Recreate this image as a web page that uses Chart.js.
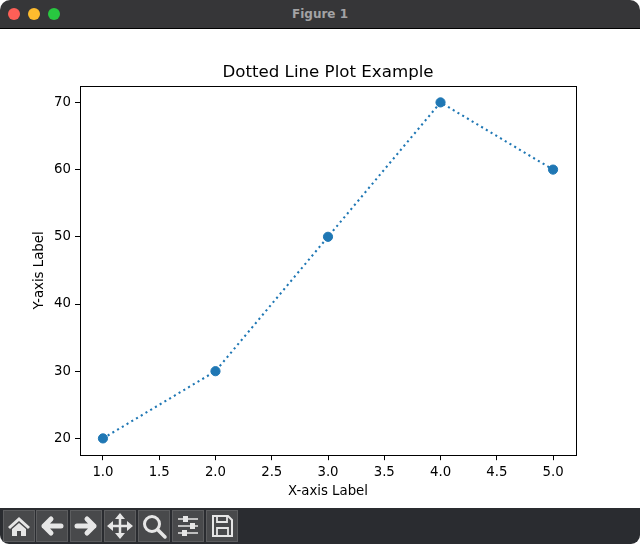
<!DOCTYPE html>
<html>
<head>
<meta charset="utf-8">
<title>Figure 1</title>
<script src="https://cdn.jsdelivr.net/npm/chart.js@4/dist/chart.umd.min.js"></script>
<style>
  html, body { margin:0; padding:0; background:#fff; }
  #win { position:relative; width:640px; height:544px; overflow:hidden; background:#fff; border-radius:10px 10px 9px 9px; font-family:"DejaVu Sans",sans-serif; }
  #titlebar { position:absolute; left:0; top:0; width:640px; height:29px; background:#363638; border-bottom:1px solid #000; box-sizing:border-box; }
  #titlebar span { position:absolute; left:0; right:0; top:7px; text-align:center; font-size:12px; font-weight:bold; color:#a3a3a5; }
  .dot { position:absolute; top:8px; width:12px; height:12px; border-radius:50%; }
  #plot { position:absolute; left:0; top:28px; width:640px; height:480px; }
  #toolbar { position:absolute; left:0; top:508px; width:640px; height:36px; background:#2a2c30; }
  .btn { position:absolute; top:2px; width:32px; height:32px; box-sizing:border-box; background:#48494b; border:1px solid #5c5d5f; }
  .btn svg { position:absolute; left:0; top:0; width:30px; height:30px; }
</style>
</head>
<body>
<div id="win">
  <div id="titlebar">
    <div class="dot" style="left:8px;background:#fe5f57"></div>
    <div class="dot" style="left:28px;background:#febc2e"></div>
    <div class="dot" style="left:48px;background:#28c840"></div>
    <span>Figure 1</span>
  </div>
  <div id="plot"><canvas id="chart" width="640" height="480"></canvas></div>
  <div id="toolbar">
    <div class="btn" style="left:3px"><svg viewBox="0 0 30 30"><path d="M4 16 L15 6 L26 16 L24 18 L15 10 L6 18Z M8 18 L15 12 L22 18 V25 H17 V20 H13 V25 H8Z" fill="#e6e6e6"/></svg></div>
    <div class="btn" style="left:36px"><svg viewBox="0 0 30 30"><path d="M7 15 H24 M14 8 L7 15 L14 22" fill="none" stroke="#e6e6e6" stroke-width="5" stroke-linecap="round" stroke-linejoin="round"/></svg></div>
    <div class="btn" style="left:70px"><svg viewBox="0 0 30 30"><path d="M6 15 H23 M16 8 L23 15 L16 22" fill="none" stroke="#e6e6e6" stroke-width="5" stroke-linecap="round" stroke-linejoin="round"/></svg></div>
    <div class="btn" style="left:104px"><svg viewBox="0 0 30 30"><path d="M15 5 V25 M5 15 H25" stroke="#e6e6e6" stroke-width="2.5"/><path d="M15 2 L20 8 H10Z M15 28 L20 22 H10Z M2 15 L8 10 V20Z M28 15 L22 10 V20Z" fill="#e6e6e6"/></svg></div>
    <div class="btn" style="left:138px"><svg viewBox="0 0 30 30"><circle cx="13" cy="13" r="7.5" fill="none" stroke="#e6e6e6" stroke-width="3"/><path d="M18.5 18.5 L26 26" stroke="#e6e6e6" stroke-width="3.5" stroke-linecap="round"/></svg></div>
    <div class="btn" style="left:172px"><svg viewBox="0 0 30 30"><path d="M5 8 H25 M5 15 H25 M5 22 H25" stroke="#e6e6e6" stroke-width="1.5"/><path d="M10 5 h5 v6 h-5Z M17 12 h5 v6 h-5Z M9 19 h5 v6 h-5Z" fill="#e6e6e6"/></svg></div>
    <div class="btn" style="left:206px"><svg viewBox="0 0 30 30"><path d="M6 5 H21 L25 9 V25 H6Z" fill="none" stroke="#e6e6e6" stroke-width="2"/><path d="M10 5 H20 V11 H10Z M10 17 H21 V25 H10Z" fill="none" stroke="#e6e6e6" stroke-width="1.8"/></svg></div>
  </div>
</div>

<script>
// ================= DATA =================
const xValues = [1, 2, 3, 4, 5];
const yValues = [20, 30, 50, 70, 60];
const xTicks = [1, 1.5, 2, 2.5, 3, 3.5, 4, 4.5, 5];
const yTicks = [20, 30, 40, 50, 60, 70];
const chartTitle = "Dotted Line Plot Example";
const xLabel = "X-axis Label";
const yLabel = "Y-axis Label";

const fontFamily = '"DejaVu Sans", sans-serif';
const lineColor = "#1f77b4";

// ================= AXIS HELPERS =================
function axisOptions(ticks, min, max, decimals, fitSize, fitKey, label, titlePadding){
  return {
    type: "linear",
    min: min,
    max: max,
    afterBuildTicks: scale => { scale.ticks = ticks.map(v => ({ value: v })); },
    afterFit: scale => { scale[fitKey] = fitSize; },
    grid: { drawOnChartArea: false, drawTicks: true, tickLength: 5, color: "#000", tickWidth: 1 },
    border: { display: false },
    ticks: {
      color: "#000",
      padding: 4,
      maxRotation: 0,
      autoSkip: false,
      font: { family: fontFamily, size: 13.3 },
      callback: v => Number(v).toFixed(decimals)
    },
    title: {
      display: true,
      text: label,
      color: "#000",
      font: { family: fontFamily, size: 13.3 },
      padding: titlePadding
    }
  };
}

// all four sides of the axes box, chart.js only gives the two with scales
const frame = {
  id: "frame",
  afterDraw(chart){
    const a = chart.chartArea;
    const c = chart.ctx;
    c.save();
    c.strokeStyle = "#000";
    c.lineWidth = 1;
    const left = Math.round(a.left) + 0.5;
    const top = Math.round(a.top) + 0.5;
    c.strokeRect(left, top, Math.round(a.right) - Math.round(a.left), Math.round(a.bottom) - Math.round(a.top));
    c.restore();
  }
};

// ================= CHART =================
Chart.defaults.animation = false;

new Chart(document.getElementById("chart"), {
  type: "line",
  plugins: [frame],
  data: {
    datasets: [{
      data: xValues.map((x, i) => ({ x: x, y: yValues[i] })),
      borderColor: lineColor,
      backgroundColor: lineColor,
      borderWidth: 2.08,
      borderDash: [2.08, 3.43],
      borderCapStyle: "butt",
      tension: 0,
      fill: false,
      pointRadius: 4.6,
      pointBorderWidth: 1,
      pointBackgroundColor: lineColor,
      pointBorderColor: lineColor
    }]
  },
  options: {
    responsive: false,
    devicePixelRatio: 1,
    layout: { padding: { left: 0, right: 64, top: 32.6, bottom: 0 } },
    plugins: {
      legend: { display: false },
      tooltip: { enabled: false },
      title: {
        display: true,
        text: chartTitle,
        color: "#000",
        fullSize: false,
        font: { family: fontFamily, size: 16.67, weight: "normal" },
        padding: { top: 2, bottom: 3 }
      }
    },
    scales: {
      x: axisOptions(xTicks, 0.796, 5.204, 1, 52.8, "height", xLabel, { top: 0, bottom: 8 }),
      y: axisOptions(yTicks, 17.5, 72.5, 0, 80, "width", yLabel, { top: 32, bottom: 0 })
    }
  }
});
</script>
</body>
</html>
